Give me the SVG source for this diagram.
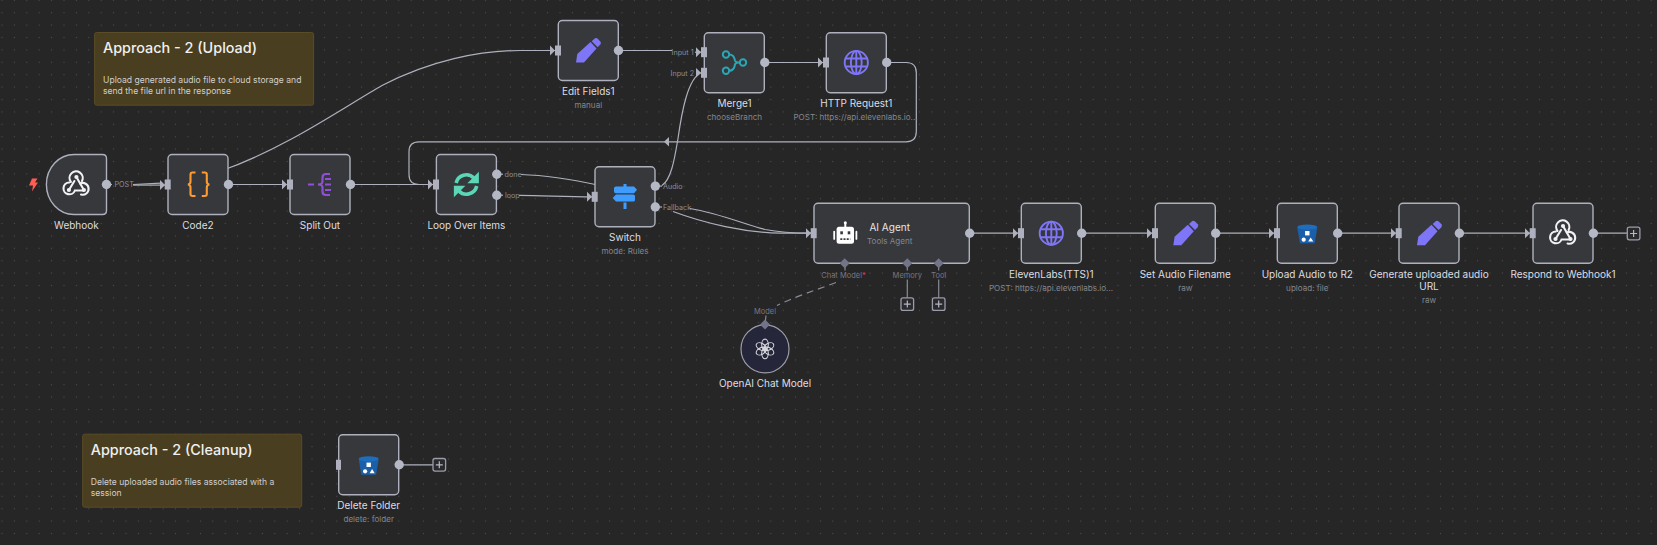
<svg xmlns="http://www.w3.org/2000/svg" width="1657" height="545" viewBox="0 0 1657 545">
<style>
text{font-family:Inter,"Noto Sans","Liberation Sans",sans-serif}
.n{fill:#37383c;stroke:#aeb1bd;stroke-width:1.4}
.lb{fill:#dcdde2;font-size:10px;text-anchor:middle}
.sb{fill:#85868c;font-size:8.1px;text-anchor:middle}
.pi{fill:#aeb1bd}
.po{fill:#b4b7c4}
.c{fill:none;stroke:#aeb1bd;stroke-width:1.2}
.cl{fill:#8c8d94;font-size:7.2px}
.sl{fill:#777788;font-size:7.5px;text-anchor:middle}
.sc{fill:none;stroke:#8a8b99;stroke-width:1.2}
.d{fill:#737487}
.note{fill:#4a3e20;stroke:#5a4c26;stroke-width:1}
.nt{fill:#f0f0f0;font-size:14.4px;font-weight:500}
.nb{fill:#cfcfcf;font-size:8.6px}
.pb{fill:#2a2a2c;stroke:#9a9cab;stroke-width:1.3}
.pp{stroke:#b4b7c4;stroke-width:1.2;fill:none}
</style>
<defs>
<pattern id="dots" width="12.4" height="12.4" patternUnits="userSpaceOnUse" patternTransform="translate(-4.2,-5.9)">
<circle cx="6.2" cy="6.2" r="0.6" fill="#4d4d4d"/>
</pattern>
<marker id="ah" markerUnits="userSpaceOnUse" markerWidth="6" markerHeight="12" refX="5" refY="6" orient="0">
<path d="M0,1 L5,6 L0,11Z" fill="#aeb1bd"/>
</marker>
<g id="i-pencil" fill="#7f75f7">
<path d="M-12,12 L-10.7,3.5 L2.5,-8.5 L8.5,-2 L-4,12Z"/>
<path d="M3.7,-9.3 L7,-12.3 Q8.5,-13 10,-11.5 L12.7,-8.6 Q13.3,-7.3 12.3,-6 L9.7,-3.3Z"/>
</g>
<g id="i-globe" fill="none" stroke="#7f75f7" stroke-width="1.9">
<circle r="11.6"/><ellipse rx="5.4" ry="11.6"/><path d="M0,-11.6 V11.6 M-10.6,-4 H10.6 M-10.6,4 H10.6"/>
</g>
<g id="i-hook" fill="none" stroke="#f2f2f4" stroke-width="2.1" stroke-linecap="round">
<path d="M-5.5,-1.5 A6.6,6.6 0 1 1 5.6,-2.5"/>
<path d="M-7.2,-1 A5.9,5.9 0 1 0 -1.5,7 H7.5"/>
<path d="M3.8,0 A5.9,5.9 0 1 1 4.6,11"/>
<path d="M0,-6.5 L7.5,6.5 M-7.5,6.5 L-2,-2.5"/>
<g fill="#f2f2f4" stroke="none"><circle cy="-6.5" r="2.1"/><circle cx="-7.5" cy="6.5" r="2.1"/><circle cx="7.5" cy="6.5" r="2.1"/></g>
</g>
<g id="i-bucket">
<path d="M-10,-5.5 L-7.4,10 H7.4 L10,-5.5Z" fill="#1b5fa8"/>
<ellipse cy="-6" rx="10" ry="2.6" fill="#1f6dbd"/>
<rect x="-2.2" y="-2.2" width="4.4" height="4.4" fill="#fff"/>
<circle cx="-3.6" cy="6.5" r="2.1" fill="#fff"/>
<path d="M3.4,4.2 L6,8.4 H0.9Z" fill="#fff"/>
</g>
<ellipse id="petal" cy="-4.4" rx="3.3" ry="5.4" fill="none" stroke="#d8d8de" stroke-width="1.1"/>
</defs>
<rect width="1657" height="545" fill="#262626"/>
<rect width="1657" height="545" fill="url(#dots)"/>
<g transform="translate(0,0.5)">
<g id="connectors">
<path class="c" d="M106,184 H112"/>
<path class="c" d="M133,184 L161,182.6"/>
<path class="c" marker-end="url(#ah)" d="M133,184.6 H165"/>
<path class="c" marker-end="url(#ah)" d="M228,184 H287"/>
<path class="c" d="M222,170 C285,148 345,106 382,85 C430,60 480,50 520,50"/>
<path class="c" marker-end="url(#ah)" d="M520,50 H555"/>
<path class="c" marker-end="url(#ah)" d="M350,184 H433"/>
<path class="c" d="M886,62 H906 Q916.3,62 916.3,72 V131 Q916.3,141.3 906,141.3 H419 Q409,141.3 409,151 V174 Q409,184 419,184"/>
<path d="M664,141.3 L669,136.5 V146Z" fill="#aeb1bd"/>
<path class="c" d="M496,173.7 H503"/>
<path class="c" d="M521,174 C550,175 572,179 600,185"/>
<path class="c" d="M496,194.7 H503"/>
<path class="c" marker-end="url(#ah)" d="M519,194.8 C545,195 565,196.3 592,196.3"/>
<path class="c" d="M655,185.6 H662"/>
<path class="c" d="M662,185 C672,178 675,155 678,138 C682,110 688,78 701,72.3"/>
<path d="M696,67.5 L701,72.3 L696,77Z" fill="#aeb1bd"/>
<path class="c" d="M655,206.5 H662"/>
<path class="c" d="M690,208 C720,213 745,224 765,229 C780,232 795,232.7 811,232.7"/>
<path class="c" marker-end="url(#ah)" d="M673,211 C705,223 745,232 780,232.7 H811"/>
<path class="c" marker-end="url(#ah)" d="M764,62 H823"/>
<path class="c" marker-end="url(#ah)" d="M969,232.7 H1018"/>
<path class="c" marker-end="url(#ah)" d="M1081,232.7 H1152"/>
<path class="c" marker-end="url(#ah)" d="M1215,232.7 H1274"/>
<path class="c" marker-end="url(#ah)" d="M1337,232.7 H1396"/>
<path class="c" marker-end="url(#ah)" d="M1459,232.7 H1530"/>
<path class="c" d="M1593,232.7 H1627"/>
<path class="c" d="M399,464.3 H433"/>
<path class="c" d="M618,50 H672"/>
<path class="c" marker-end="url(#ah)" d="M695,51.7 H701"/>
<path class="sc" stroke-dasharray="7 5" d="M836,282 C815,290 795,296 777,305"/>
<path class="sc" d="M845,263 V270"/>
<path class="sc" d="M765,324 L766,315"/>
<path class="sc" d="M907.3,263 V270 M907.3,279 V297.3"/>
<path class="sc" d="M938.7,263 V270 M938.7,279 V297.3"/>
<text class="cl" x="114.5" y="186.7">POST</text>
<text class="cl" x="504.5" y="176.4">done</text>
<text class="cl" x="505" y="197.4">loop</text>
<text class="cl" x="663" y="188.3">Audio</text>
<text class="cl" x="663" y="209.2">Fallback</text>
<text class="cl" x="671.5" y="54.4">Input 1</text>
<text class="cl" x="670.5" y="75">Input 2</text>
<text class="sl" x="843.5" y="277">Chat Model<tspan fill="#e0405a">*</tspan></text>
<text class="sl" x="907.3" y="277">Memory</text>
<text class="sl" x="938.7" y="277">Tool</text>
<text class="sl" x="765" y="313">Model</text>
</g>

<g id="note-upload">
<rect class="note" x="94.6" y="32" width="219" height="72.7" rx="2"/>
<text class="nt" x="103" y="52">Approach - 2 (Upload)</text>
<text class="nb" x="103" y="82.2">Upload generated audio file to cloud storage and</text>
<text class="nb" x="103" y="93.2">send the file url in the response</text>
</g>
<g id="note-cleanup">
<rect class="note" x="82.7" y="433.7" width="219" height="73" rx="2"/>
<text class="nt" x="90.7" y="454">Approach - 2 (Cleanup)</text>
<text class="nb" x="90.7" y="484">Delete uploaded audio files associated with a</text>
<text class="nb" x="90.7" y="495">session</text>
</g>

<g id="webhook">
<path d="M32,178 H37.5 L35,182 H38 L32,191 L33,185 H29Z" fill="#ff5d52"/>
<path class="n" d="M74,154 H102.5 Q106.5,154 106.5,158 V210 Q106.5,214 102.5,214 H74 A27.6,30 0 0 1 46.4,184 A27.6,30 0 0 1 74,154Z"/>
<use href="#i-hook" x="76.4" y="183"/>
<circle class="po" cx="106.5" cy="184" r="4.7"/>
<text class="lb" x="76.4" y="228.2">Webhook</text>
</g>
<g id="code2">
<rect class="n" x="168" y="154" width="60" height="60" rx="4"/>
<rect class="pi" x="164.7" y="179" width="6" height="10"/>
<path d="M195.5,172 H192.5 Q190.5,172 190.5,174 V181 Q190.5,184 187.8,184 Q190.5,184 190.5,187 V193.5 Q190.5,195.5 192.5,195.5 H195.5 M201.8,172 H204.8 Q206.8,172 206.8,174 V181 Q206.8,184 209.5,184 Q206.8,184 206.8,187 V193.5 Q206.8,195.5 204.8,195.5 H201.8" fill="none" stroke="#ff9a2e" stroke-width="2.1"/>
<circle class="po" cx="228.5" cy="184" r="4.7"/>
<text class="lb" x="198" y="228.2">Code2</text>
</g>
<g id="split-out">
<rect class="n" x="290" y="154" width="60" height="60" rx="4"/>
<rect class="pi" x="287" y="179" width="6" height="10"/>
<path d="M308,184 H314 M330,173.5 H326 Q322.5,173.5 322.5,177 V181 Q322.5,184 318,184 Q322.5,184 322.5,187 V191 Q322.5,194.5 326,194.5 H330 M325,178.5 H331 M325,184 H331 M325,189.5 H331" fill="none" stroke="#8f4fd6" stroke-width="2.2"/>
<circle class="po" cx="350.5" cy="184" r="4.7"/>
<text class="lb" x="320" y="228.2">Split Out</text>
</g>
<g id="loop-over-items">
<rect class="n" x="436.4" y="154" width="60" height="60" rx="4"/>
<rect class="pi" x="433" y="179" width="6" height="10"/>
<g transform="translate(466.4,184)" fill="none" stroke="#5cd6b6" stroke-width="3.6">
<path d="M-10.3,-1.5 A10.5,10.5 0 0 1 7.5,-6.5"/>
<path d="M10.3,1.5 A10.5,10.5 0 0 1 -7.5,6.5"/>
<path d="M12.5,-12.8 V-1.2 H1Z" fill="#5cd6b6" stroke="none"/>
<path d="M-12.5,12.8 V1.2 H-1Z" fill="#5cd6b6" stroke="none"/>
</g>
<circle class="po" cx="496.8" cy="173.7" r="4.7"/>
<circle class="po" cx="496.8" cy="194.7" r="4.7"/>
<text class="lb" x="466.4" y="228.2">Loop Over Items</text>
</g>
<g id="edit-fields1">
<rect class="n" x="558.3" y="20" width="60" height="60" rx="4"/>
<rect class="pi" x="555" y="45" width="6" height="10"/>
<use href="#i-pencil" x="588" y="50"/>
<circle class="po" cx="618.5" cy="50" r="4.7"/>
<text class="lb" x="588.3" y="94">Edit Fields1</text>
<text class="sb" x="588.3" y="107">manual</text>
</g>
<g id="merge1">
<rect class="n" x="704.3" y="32.3" width="60" height="60" rx="4"/>
<rect class="pi" x="701" y="46.7" width="6" height="10"/>
<rect class="pi" x="701" y="67.3" width="6" height="10"/>
<g fill="none" stroke="#2aa6b4" stroke-width="2">
<circle cx="726" cy="54" r="3.2"/><circle cx="726" cy="70.3" r="3.2"/><circle cx="743" cy="62" r="3.2"/>
<path d="M729.2,54 C733,54 734.5,57 735,60 Q735.5,62 739.8,62 M729.2,70.3 C733,70.3 734.5,67 735,64 Q735.5,62 739.8,62"/>
</g>
<circle class="po" cx="764.8" cy="62" r="4.7"/>
<text class="lb" x="734.5" y="106">Merge1</text>
<text class="sb" x="734.5" y="119">chooseBranch</text>
</g>
<g id="http-request1">
<rect class="n" x="826.3" y="32.3" width="60" height="60" rx="4"/>
<rect class="pi" x="823" y="57" width="6" height="10"/>
<use href="#i-globe" x="856.3" y="62"/>
<circle class="po" cx="886.7" cy="62" r="4.7"/>
<text class="lb" x="856.3" y="106">HTTP Request1</text>
<text class="sb" x="855.5" y="119">POST: https://api.elevenlabs.io...</text>
</g>
<g id="switch">
<rect class="n" x="595" y="166.3" width="60" height="60" rx="4"/>
<rect class="pi" x="591.7" y="191.3" width="6" height="10"/>
<g fill="#3f9cff">
<path d="M623.5,183.5 H626.5 V186 H634 L637,189.3 L634,192.7 H616 Q614,192.7 614,191 V187.5 Q614,186 616,186 H623.5Z"/>
<path d="M616,194 H633 Q635,194 635,195.5 V199.5 Q635,201 633,201 H616 L612.7,197.5Z"/>
<rect x="623.5" y="202" width="3" height="6.5"/>
</g>
<circle class="po" cx="655.3" cy="185.6" r="4.7"/>
<circle class="po" cx="655.3" cy="206.5" r="4.7"/>
<text class="lb" x="625" y="240.5">Switch</text>
<text class="sb" x="625" y="253">mode: Rules</text>
</g>
<g id="ai-agent">
<rect class="n" x="814" y="202.7" width="155.3" height="60" rx="4"/>
<rect class="pi" x="810.7" y="227.7" width="6" height="10"/>
<g transform="translate(845.3,233.3)">
<rect x="-8.7" y="-7" width="17.4" height="17" rx="2.5" fill="#fff"/>
<rect x="-12" y="-3" width="1.8" height="9" rx="0.9" fill="#fff"/>
<rect x="10.2" y="-3" width="1.8" height="9" rx="0.9" fill="#fff"/>
<rect x="-1" y="-10.5" width="2" height="4" fill="#fff"/>
<circle cy="-11" r="1.5" fill="#fff"/>
<rect x="-5" y="-2.5" width="2.6" height="3" fill="#37383c"/>
<rect x="2.4" y="-2.5" width="2.6" height="3" fill="#37383c"/>
<path d="M-5,5.3 H5" stroke="#37383c" stroke-width="1.6" stroke-dasharray="2 1.2"/>
</g>
<text x="889.7" y="230.3" fill="#e6e6ea" font-size="10" text-anchor="middle">AI Agent</text>
<text class="sb" x="889.7" y="243">Tools Agent</text>
<circle class="po" cx="969.7" cy="232.7" r="4.7"/>
<path class="d" d="M844.7,257.7 L849.7,262.7 L844.7,267.7 L839.7,262.7Z"/>
<path class="d" d="M907.3,257.7 L912.3,262.7 L907.3,267.7 L902.3,262.7Z"/>
<path class="d" d="M938.7,257.7 L943.7,262.7 L938.7,267.7 L933.7,262.7Z"/>
</g>
<g id="add-memory">
<rect class="pb" x="901" y="297.3" width="12.6" height="12.6" rx="2"/>
<path class="pp" d="M903.8,303.6 H910.8 M907.3,300.1 V307.1"/>
</g>
<g id="add-tool">
<rect class="pb" x="932.4" y="297.3" width="12.6" height="12.6" rx="2"/>
<path class="pp" d="M935.2,303.6 H942.2 M938.7,300.1 V307.1"/>
</g>
<g id="openai-chat-model">
<circle cx="765" cy="348.4" r="24" fill="#25263a" stroke="#9c9da8" stroke-width="1.2"/>
<g transform="translate(765,348.4)">
<use href="#petal"/><use href="#petal" transform="rotate(60)"/><use href="#petal" transform="rotate(120)"/><use href="#petal" transform="rotate(180)"/><use href="#petal" transform="rotate(240)"/><use href="#petal" transform="rotate(300)"/>
</g>
<path class="d" d="M765,319 L770,324 L765,329 L760,324Z"/>
<text class="lb" x="765" y="386">OpenAI Chat Model</text>
</g>
<g id="elevenlabs-tts1">
<rect class="n" x="1021.3" y="202.7" width="60" height="60" rx="4"/>
<rect class="pi" x="1018" y="227.7" width="6" height="10"/>
<use href="#i-globe" x="1051.3" y="232.7"/>
<circle class="po" cx="1081.7" cy="232.7" r="4.7"/>
<text class="lb" x="1051.3" y="277">ElevenLabs(TTS)1</text>
<text class="sb" x="1051" y="290">POST: https://api.elevenlabs.io...</text>
</g>
<g id="set-audio-filename">
<rect class="n" x="1155.3" y="202.7" width="60" height="60" rx="4"/>
<rect class="pi" x="1152" y="227.7" width="6" height="10"/>
<use href="#i-pencil" x="1185.3" y="232.7"/>
<circle class="po" cx="1215.7" cy="232.7" r="4.7"/>
<text class="lb" x="1185.3" y="277">Set Audio Filename</text>
<text class="sb" x="1185.3" y="290">raw</text>
</g>
<g id="upload-audio-to-r2">
<rect class="n" x="1277.3" y="202.7" width="60" height="60" rx="4"/>
<rect class="pi" x="1274" y="227.7" width="6" height="10"/>
<use href="#i-bucket" x="1307.3" y="232.7"/>
<circle class="po" cx="1337.7" cy="232.7" r="4.7"/>
<text class="lb" x="1307.3" y="277">Upload Audio to R2</text>
<text class="sb" x="1307.3" y="290">upload: file</text>
</g>
<g id="generate-uploaded-audio-url">
<rect class="n" x="1399" y="202.7" width="60" height="60" rx="4"/>
<rect class="pi" x="1395.7" y="227.7" width="6" height="10"/>
<use href="#i-pencil" x="1429" y="232.7"/>
<circle class="po" cx="1459.4" cy="232.7" r="4.7"/>
<text class="lb" x="1429" y="277">Generate uploaded audio</text>
<text class="lb" x="1429" y="289">URL</text>
<text class="sb" x="1429" y="302">raw</text>
</g>
<g id="respond-to-webhook1">
<rect class="n" x="1533" y="202.7" width="60" height="60" rx="4"/>
<rect class="pi" x="1529.7" y="227.7" width="6" height="10"/>
<use href="#i-hook" x="1563" y="232"/>
<circle class="po" cx="1593.4" cy="232.7" r="4.7"/>
<text class="lb" x="1563" y="277">Respond to Webhook1</text>
</g>
<g id="add-respond">
<rect class="pb" x="1627.3" y="226.7" width="12.6" height="12.6" rx="2"/>
<path class="pp" d="M1630.1,233 H1637.1 M1633.6,229.5 V236.5"/>
</g>
<g id="delete-folder">
<rect class="n" x="338.7" y="434.3" width="60" height="60" rx="4"/>
<rect class="pi" x="336" y="459.3" width="5" height="10"/>
<use href="#i-bucket" x="368.7" y="464.3"/>
<circle class="po" cx="399.2" cy="464.3" r="4.7"/>
<text class="lb" x="368.7" y="508.5">Delete Folder</text>
<text class="sb" x="368.7" y="521">delete: folder</text>
</g>
<g id="add-delete">
<rect class="pb" x="433" y="458" width="12.6" height="12.6" rx="2"/>
<path class="pp" d="M435.8,464.3 H442.8 M439.3,460.8 V467.8"/>
</g>
</g>
</svg>
